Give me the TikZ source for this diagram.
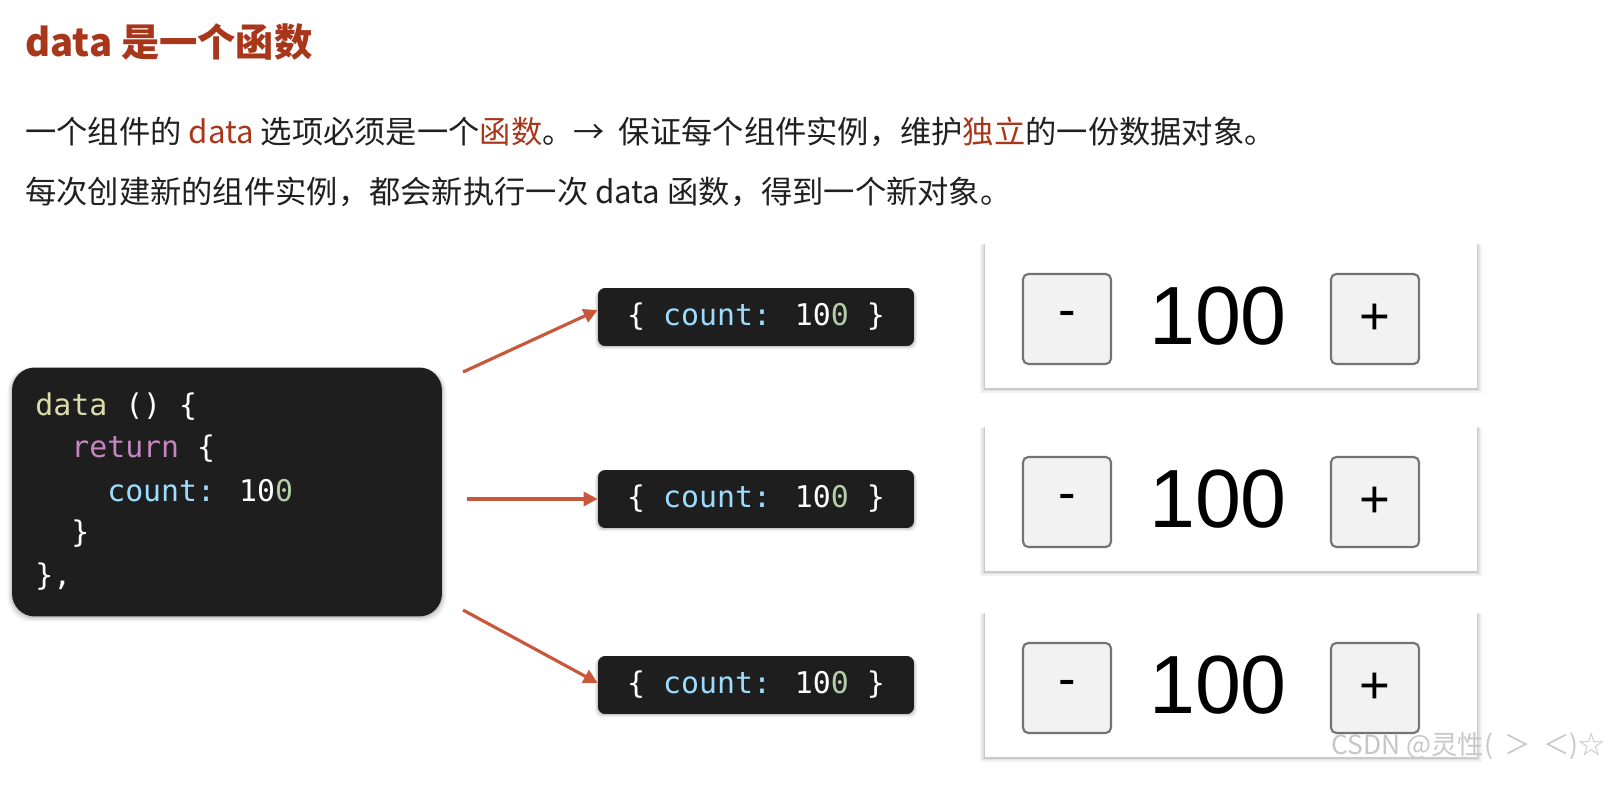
\documentclass[tikz,border=0pt]{standalone}
\usepackage{fontspec}
\setmainfont{Noto Sans CJK SC}
\newfontfamily\cjk{Noto Sans CJK SC}
\newfontfamily\codef{DejaVu Sans Mono}
\newfontfamily\numf{Liberation Sans}
\usetikzlibrary{arrows.meta,shadows}
\definecolor{accent}{HTML}{A8361A}
\definecolor{arr}{HTML}{C9573B}
\definecolor{codebg}{HTML}{1E1E1E}
\definecolor{kyel}{HTML}{DCDCAA}
\definecolor{kpur}{HTML}{C586C0}
\definecolor{kblue}{HTML}{9CDCFE}
\definecolor{knum}{HTML}{B5CEA8}
\definecolor{txt}{HTML}{202020}
\tikzset{
  pxx/.style={x=0.02cm,y=-0.02cm},
  softshadow/.style={
    general shadow={fill=black,opacity=0.05,shadow xshift=0pt,shadow yshift=-1.5pt,shadow scale=1.02},
    general shadow={fill=black,opacity=0.07,shadow xshift=0pt,shadow yshift=-1pt,shadow scale=1.012},
    general shadow={fill=black,opacity=0.1,shadow xshift=0pt,shadow yshift=-0.6pt,shadow scale=1.005}},
  objbox/.style={fill=codebg,rounded corners=4pt,minimum width=6.32cm,minimum height=1.16cm,font=\codef\fontsize{17}{20}\selectfont,text=white,softshadow},
  panel/.style={fill=white,minimum width=9.84cm,minimum height=2.9cm,softshadow},
  btn/.style={fill=black!5,draw=black!55,line width=1.2pt,rounded corners=3pt,minimum width=1.76cm,minimum height=1.8cm,font=\numf\fontsize{30}{34}\selectfont},
  bignum/.style={font=\numf\fontsize{47}{50}\selectfont},
  link/.style={arr,line width=1.8pt,-{Triangle[length=8pt,width=8pt]}},
  bodytxt/.style={anchor=west,font=\cjk\fontsize{17.8}{20}\selectfont,text=txt,inner sep=0}
}
\begin{document}
\begin{tikzpicture}[pxx]
\useasboundingbox (0,0) rectangle (1609,793);
\node[anchor=west,inner sep=0,font=\cjk\bfseries\fontsize{21.8}{24}\selectfont,text=accent] (title) at (25,42) {data 是一个函数};
\node[bodytxt] (l1) at (25,132) {一个组件的 \textcolor{accent}{data} 选项必须是一个\textcolor{accent}{函数}。→\ \ 保证每个组件实例，维护\textcolor{accent}{独立}的一份数据对象。};
\node[bodytxt] (l2) at (25,192) {每次创建新的组件实例，都会新执行一次 data 函数，得到一个新对象。};

\node[fill=codebg,rounded corners=13pt,minimum width=8.6cm,minimum height=4.98cm,softshadow] (code) at (227,492) {};
\begin{scope}[every node/.style={anchor=west,inner sep=0,font=\codef\fontsize{17}{20}\selectfont,text=white}]
\node (c1) at (35,407) {\textcolor{kyel}{data} () \{};
\node (c2) at (35,449) {\phantom{xx}\textcolor{kpur}{return} \{};
\node (c3) at (35,491) {\phantom{xxxx}\textcolor{kblue}{count:} 10\textcolor{knum}{0}};
\node (c4) at (35,534) {\phantom{xx}\}};
\node (c5) at (35,577) {\},};
\end{scope}

\foreach \i/\y in {1/317,2/499,3/685}{
  \node[objbox] (o\i) at (756,\y) {\{ \textcolor{kblue}{count:} 10\textcolor{knum}{0} \}};
}
\coordinate (s1) at (463,372);
\coordinate (s2) at (467,499);
\coordinate (s3) at (463,610);
\draw[link] (s1) -- (o1.west |- 310,310) ;
\draw[link] (s2) -- (o2.west);
\draw[link] (s3) -- (o3.west |- 683,683);

\foreach \i/\y in {1/316,2/499,3/685}{
  \node[panel] (p\i) at (1231,\y) {};
  \node[btn] (m\i) at (1067,\y+3) {-};
  \node[btn] (a\i) at (1375,\y+3) {+};
  \node[bignum] (n\i) at (1218,\y) {100};
}
\node[anchor=east,inner sep=0,font=\cjk\fontsize{15}{16}\selectfont,text=black!22] (wm) at (1605,746) {CSDN @灵性(\ \ ＞\ \ ＜)☆};
\end{tikzpicture}
\end{document}
